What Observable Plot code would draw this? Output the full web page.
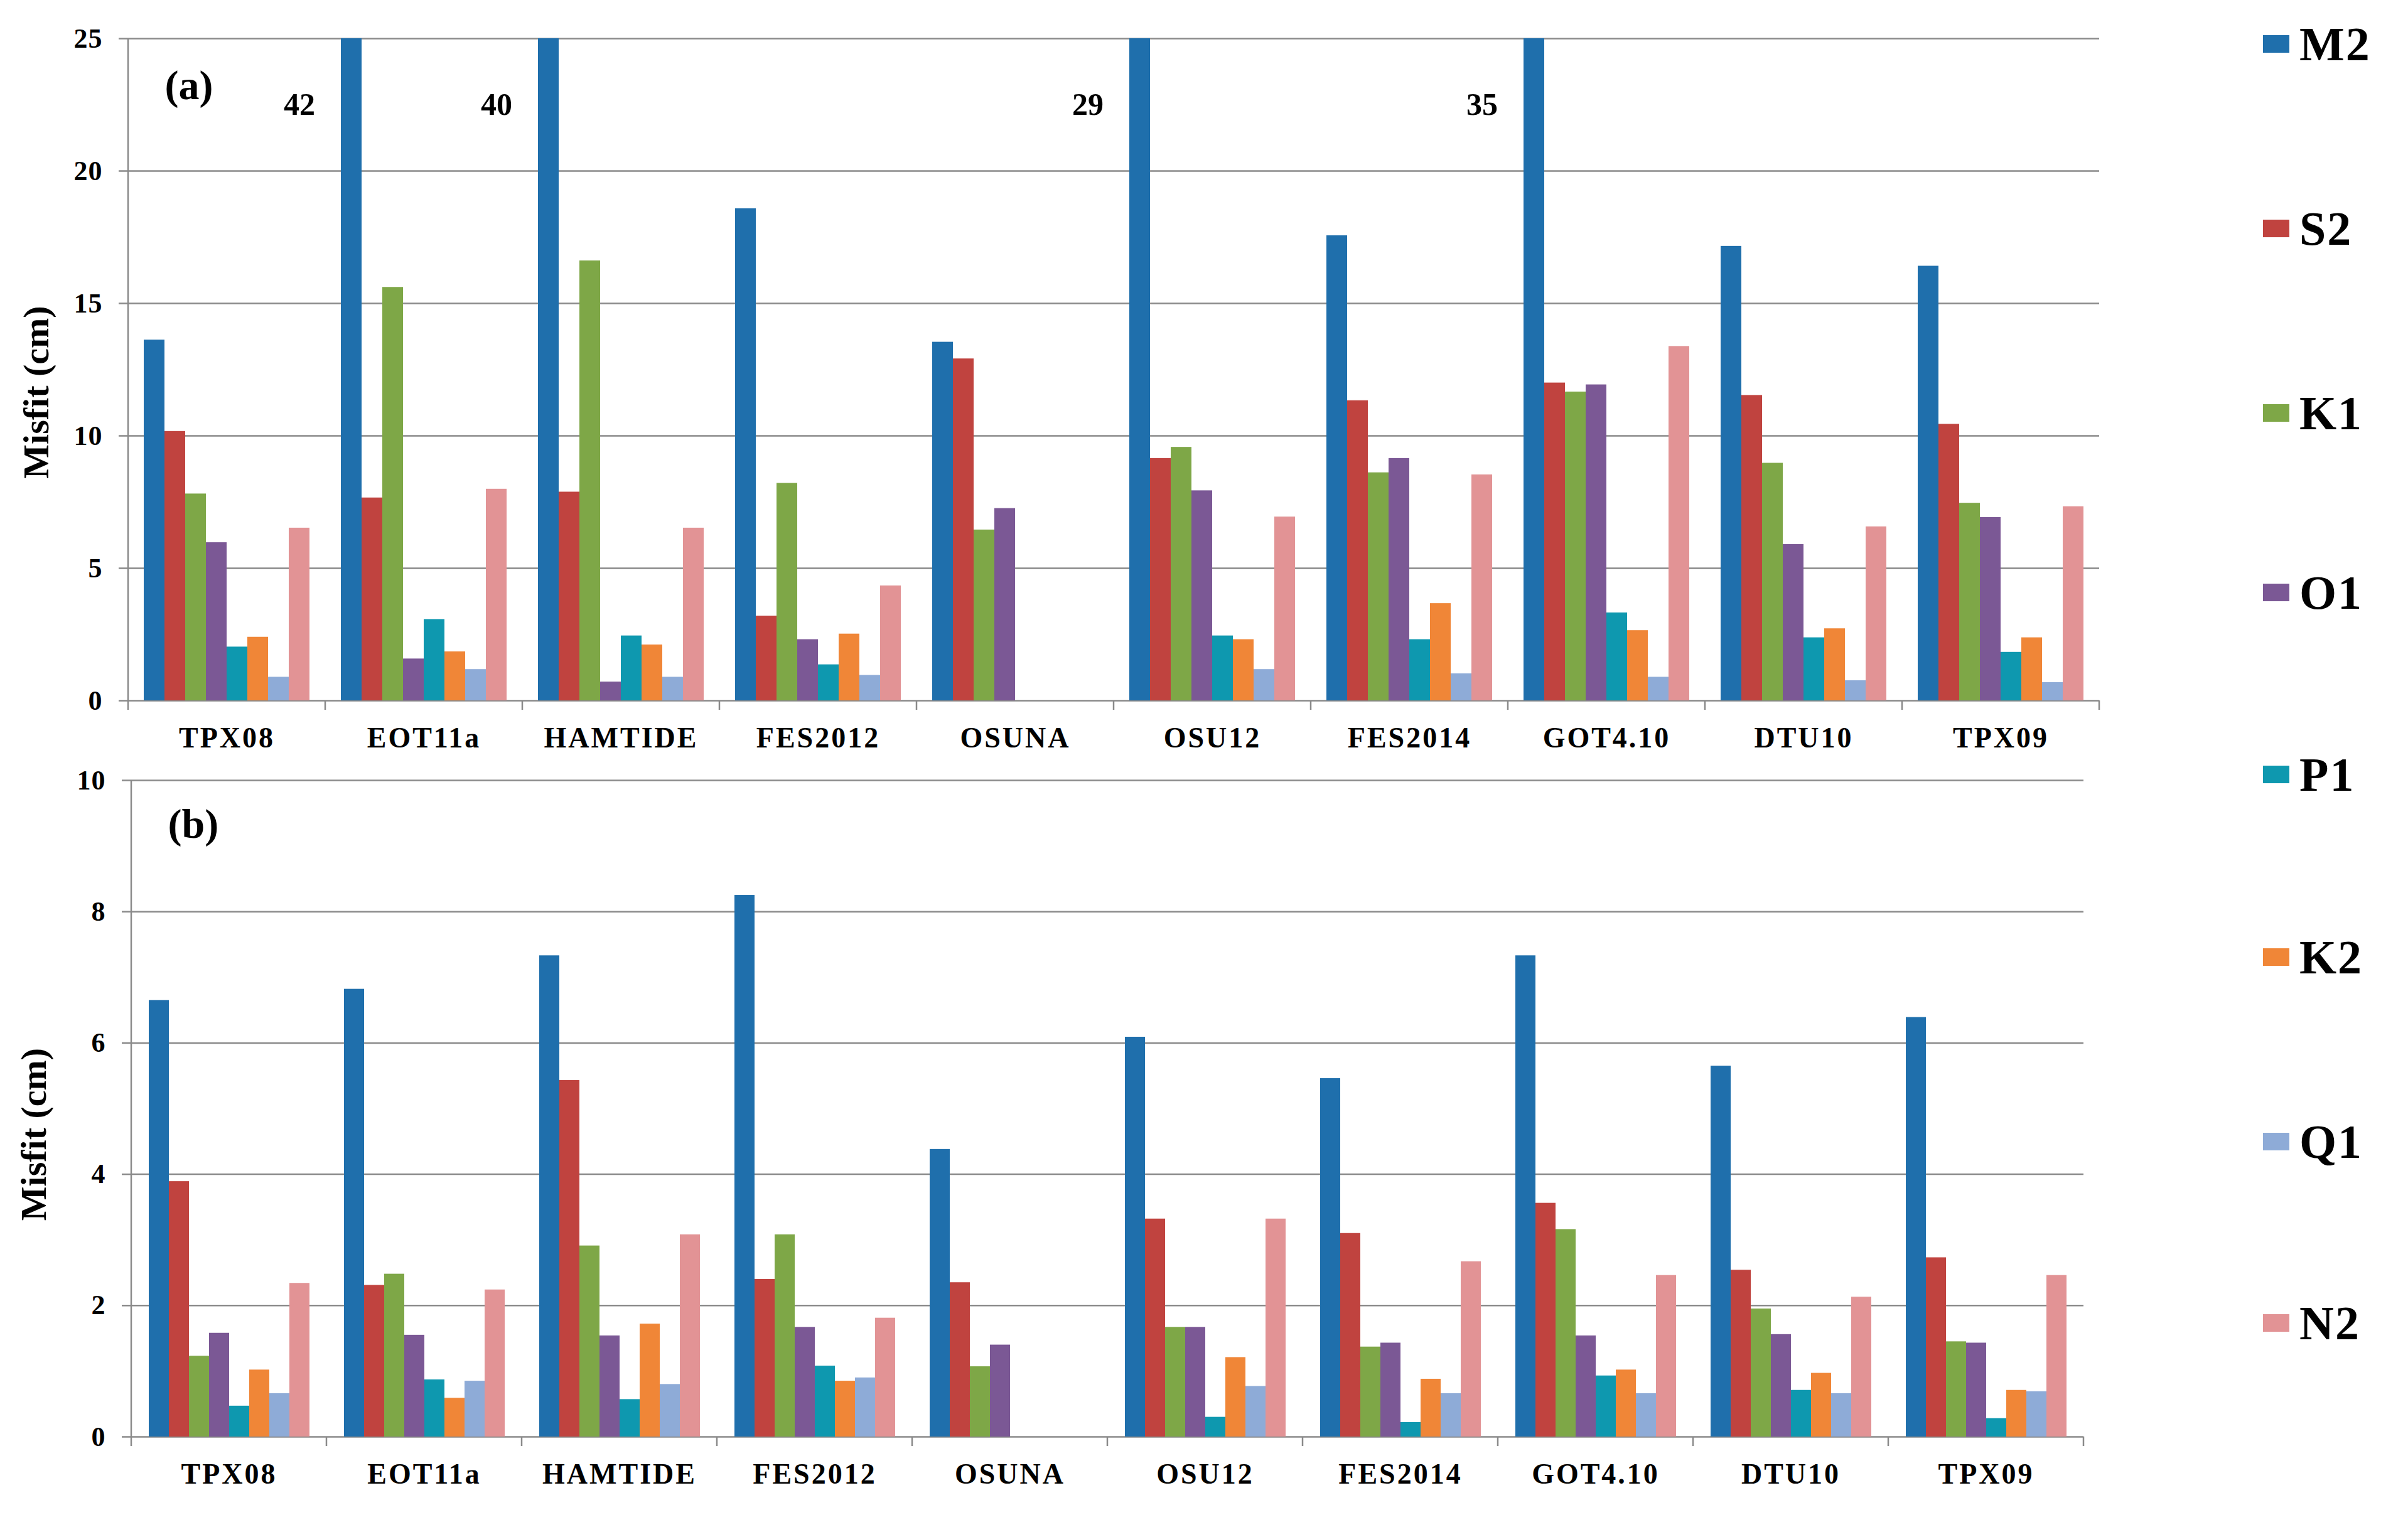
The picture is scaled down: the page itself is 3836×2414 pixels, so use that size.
<!DOCTYPE html>
<html>
<head>
<meta charset="utf-8">
<script src="https://cdn.jsdelivr.net/npm/d3@7"></script>
<script src="https://cdn.jsdelivr.net/npm/@observablehq/plot@0.6"></script>
<style>
  html, body { margin: 0; padding: 0; background: #fff; }
  #page { position: relative; width: 3836px; height: 2414px; background: #fff; font-family: "Liberation Serif", "Times New Roman", serif; }
  #panelA { position: absolute; left: 0; top: 0; }
  #panelB { position: absolute; left: 0; top: 1200px; }
  #legend { position: absolute; left: 3605px; top: 0; }
  .lg-item { position: absolute; left: 0; display: flex; align-items: center; white-space: nowrap; }
  .lg-sw { width: 42px; height: 28px; margin-right: 16px; }
  .lg-tx { font-family: "Liberation Serif", "Times New Roman", serif; font-weight: bold; font-size: 76px; color: #000; line-height: 1; letter-spacing: 2px; }
  svg g[aria-label="fx-axis tick label"] text { letter-spacing: 3px; }
  svg g[aria-label="y-axis tick label"] text { letter-spacing: 1px; }
</style>
</head>
<body>
<div id="page">
  <div id="panelA"></div>
  <div id="panelB"></div>
  <div id="legend"></div>
</div>
<script>
// ---------- data ----------
const models = ["TPX08", "EOT11a", "HAMTIDE", "FES2012", "OSUNA", "OSU12", "FES2014", "GOT4.10", "DTU10", "TPX09"];
const constituents = ["M2", "S2", "K1", "O1", "P1", "K2", "Q1", "N2"];
const colors = ["#1F6FAC", "#C0433F", "#7EA747", "#7B5895", "#0E98AF", "#F08637", "#8EABD7", "#E29395"];

// panel (a)
const M2a = [13.62, 42, 40, 18.58, 13.54, 29, 17.56, 35, 17.16, 16.41];
const S2a = [10.17, 7.66, 7.88, 3.20, 12.91, 9.15, 11.33, 12.00, 11.53, 10.44];
const K1a = [7.81, 15.61, 16.61, 8.21, 6.45, 9.57, 8.61, 11.66, 8.97, 7.46];
const O1a = [5.97, 1.58, 0.71, 2.31, 7.26, 7.93, 9.15, 11.93, 5.90, 6.92];
const P1a = [2.03, 3.07, 2.45, 1.36, null, 2.45, 2.31, 3.32, 2.38, 1.83];
const K2a = [2.40, 1.85, 2.11, 2.52, null, 2.31, 3.67, 2.65, 2.72, 2.38];
const Q1a = [0.89, 1.18, 0.89, 0.96, null, 1.18, 1.02, 0.89, 0.76, 0.69];
const N2a = [6.52, 7.99, 6.52, 4.34, null, 6.94, 8.53, 13.38, 6.57, 7.33];

// panel (b)
const M2b = [6.65, 6.82, 7.33, 8.25, 4.38, 6.09, 5.46, 7.33, 5.65, 6.39];
const S2b = [3.89, 2.31, 5.43, 2.40, 2.35, 3.32, 3.10, 3.56, 2.54, 2.73];
const K1b = [1.23, 2.48, 2.91, 3.08, 1.07, 1.67, 1.37, 3.16, 1.95, 1.45];
const O1b = [1.58, 1.55, 1.54, 1.67, 1.40, 1.67, 1.43, 1.54, 1.56, 1.43];
const P1b = [0.47, 0.87, 0.57, 1.08, null, 0.30, 0.22, 0.93, 0.71, 0.28];
const K2b = [1.02, 0.59, 1.72, 0.85, null, 1.21, 0.88, 1.02, 0.97, 0.71];
const Q1b = [0.66, 0.85, 0.80, 0.90, null, 0.77, 0.66, 0.66, 0.66, 0.69];
const N2b = [2.34, 2.24, 3.08, 1.81, null, 3.32, 2.67, 2.46, 2.13, 2.46];

const yTicksA = [0, 5, 10, 15, 20, 25];
const yTicksB = [0, 2, 4, 6, 8, 10];
const yLabel = "Misfit (cm)";
// ---------- end data ----------

const GRAY = "#8a8a8a";
const FONT = "'Liberation Serif', 'Times New Roman', serif";

function rowsOf(series) {
  const rows = [];
  series.forEach((vals, ci) => {
    vals.forEach((v, mi) => {
      if (v != null) rows.push({model: models[mi], constituent: constituents[ci], value: v});
    });
  });
  return rows;
}

function panel(o) {
  const rows = rowsOf(o.series);
  const ymax = o.ticks[o.ticks.length - 1];
  // values beyond the axis: label them above the previous group's last bar
  const over = o.series[0]
    .map((v, mi) => ({v, mi}))
    .filter(d => d.v != null && d.v > ymax)
    .map(d => ({model: models[d.mi - 1], at: constituents[constituents.length - 1], text: String(d.v)}));

  const svg = Plot.plot({
    width: 3400,
    height: o.height,
    marginLeft: o.ml,
    marginRight: o.mr,
    marginTop: o.mt,
    marginBottom: o.mb,
    style: {fontFamily: FONT, fontWeight: "bold", color: "#000", background: "#fff", overflow: "visible"},
    fx: {domain: models, padding: 0, label: null},
    x: {domain: constituents, paddingInner: 0, paddingOuter: 0.75, axis: null},
    y: {domain: [0, ymax], label: null},
    color: {domain: constituents, range: colors},
    marks: [
      Plot.gridY(o.ticks, {stroke: GRAY, strokeOpacity: 1, strokeWidth: 2.5}),
      Plot.barY(rows, {fx: "model", x: "constituent", y: "value", fill: "constituent", clip: true, inset: 0}),
      Plot.axisY({ticks: o.ticks, tickSize: 15, tickPadding: 26, stroke: GRAY, strokeWidth: 2.5, fontSize: 44, fontWeight: "bold", label: null}),
      Plot.axisFx({anchor: "bottom", tickSize: 0, tickPadding: 42, fontSize: 46, fontWeight: "bold", label: null}),
      Plot.text(over, {fx: "model", x: "at", text: "text", frameAnchor: "top", lineAnchor: "middle", dy: 105, fontSize: 50, fontWeight: "bold"}),
      Plot.text([{model: models[0], label: o.label}], {fx: "model", text: "label", frameAnchor: "top-left", textAnchor: "start", lineAnchor: "middle", dx: 58, dy: o.labelDy, fontSize: 66, fontWeight: "bold"}),
      Plot.text([{model: models[0], label: yLabel}], {fx: "model", text: "label", frameAnchor: "left", textAnchor: "middle", lineAnchor: "middle", rotate: -90, dx: o.ylabDx, dy: o.ylabDy, fontSize: 58, fontWeight: "bold"})
    ]
  });

  // axis line and group-boundary ticks, positioned with the plot's own scales
  const fx = svg.scale("fx"), y = svg.scale("y");
  const y0 = y.apply(0), yTop = y.apply(ymax);
  const edges = models.map(m => fx.apply(m));
  edges.push(fx.apply(models[models.length - 1]) + fx.bandwidth);
  const g = d3.select(svg).append("g").attr("stroke", GRAY).attr("stroke-width", 2.5).attr("fill", "none");
  edges.forEach(e => g.append("line").attr("x1", e).attr("x2", e).attr("y1", y0).attr("y2", y0 + 15));
  g.append("line").attr("x1", edges[0]).attr("x2", edges[0]).attr("y1", yTop).attr("y2", y0);
  return svg;
}

document.getElementById("panelA").appendChild(panel({
  series: [M2a, S2a, K1a, O1a, P1a, K2a, Q1a, N2a],
  ticks: yTicksA, height: 1200, ml: 200, mr: 53, mt: 61, mb: 84,
  label: "(a)", labelDy: 75, ylabDx: -146, ylabDy: 36
}));
document.getElementById("panelB").appendChild(panel({
  series: [M2b, S2b, K1b, O1b, P1b, K2b, Q1b, N2b],
  ticks: yTicksB, height: 1214, ml: 209, mr: 81, mt: 43, mb: 125,
  label: "(b)", labelDy: 70, ylabDx: -155, ylabDy: 41
}));

// legend
const legendTops = [70, 364, 658, 944, 1234, 1525, 1819, 2108];
const lg = d3.select("#legend");
constituents.forEach((c, i) => {
  const item = lg.append("div").attr("class", "lg-item").style("top", (legendTops[i] - 40) + "px").style("height", "80px");
  item.append("div").attr("class", "lg-sw").style("background", colors[i]);
  item.append("div").attr("class", "lg-tx").text(c);
});
</script>
</body>
</html>
